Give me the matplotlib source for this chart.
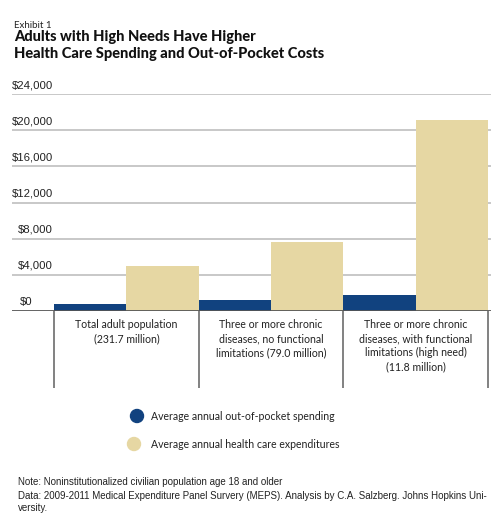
import numpy as np
import matplotlib
matplotlib.use("Agg")
import matplotlib.pyplot as plt
from matplotlib.patches import Ellipse
from matplotlib.transforms import blended_transform_factory, offset_copy

# data
categories = ["Total adult population\n(231.7 million)",
              "Three or more chronic\ndiseases, no functional\nlimitations (79.0 million)",
              "Three or more chronic\ndiseases, with functional\nlimitations (high need)\n(11.8 million)"]
out_of_pocket = [770, 1210, 1760]
total_spending = [4940, 7620, 21080]
y_ticks = [0, 4000, 8000, 12000, 16000, 20000, 24000]
tick_labels = ["$0", "$4,000", "$8,000", "$12,000", "$16,000", "$20,000", "$24,000"]

blue = "#11427f"
beige = "#e6d7a3"
humanist = ["Lato", "DejaVu Sans"]
arial = ["Liberation Sans", "DejaVu Sans"]

fig = plt.figure(figsize=(5, 5.3), dpi=100)
W, H = 500, 530
ax = fig.add_axes([12 / W, 1 - 311 / H, 479 / W, 217 / H])

x = np.arange(len(categories))
ax.bar(x - 0.25, out_of_pocket, width=0.5, color=blue, zorder=3)
ax.bar(x + 0.25, total_spending, width=0.5, color=beige, zorder=3)

ax.set_xlim(-0.5 - 42 / 144, 2.5 + 3 / 144)
ax.set_ylim(0, 24000)
for v in y_ticks[1:]:
    ax.axhline(v, color="#c4c4c4", lw=1.3, zorder=1)
ax.axhline(0, color="#555555", lw=2, zorder=4)

for s in ax.spines.values():
    s.set_visible(False)
ax.set_xticks([])
ax.set_yticks([])

# y labels sit just above the gridlines
trans = offset_copy(blended_transform_factory(fig.transFigure, ax.transData),
                    fig=fig, y=4, units="dots")
for v, lab in zip(y_ticks, tick_labels):
    if v == 0:
        fig.text(20 / W, v, lab, transform=trans, ha="left", va="bottom",
                 fontsize=8.2, family=arial, color="#222222")
    else:
        fig.text(53 / W, v, lab, transform=trans, ha="right", va="bottom",
                 fontsize=8.2, family=arial, color="#222222")

# separators under the axis
xt = ax.get_xaxis_transform()
ax.vlines(np.arange(len(categories) + 1) - 0.5, -77 / 217, 0, transform=xt,
          color="#777777", lw=1.3, clip_on=False)

for i, c in enumerate(categories):
    ax.text(i, -8 / 217, c, transform=xt, ha="center", va="top", fontsize=7.6,
            family=humanist, color="#222222", linespacing=1.35)

# title
fig.text(14 / W, 1 - 25 / H, "Exhibit 1", fontsize=7, family=humanist,
         va="center", color="#222222")
fig.text(14 / W, 1 - 45.5 / H, "Adults with High Needs Have Higher\nHealth Care Spending and Out-of-Pocket Costs",
         fontsize=10.5, family=humanist, weight="black", va="center",
         linespacing=1.2, color="#111111")

# legend
fig.patches.append(Ellipse((137 / W, 1 - 416 / H), 13 / W, 13 / H,
                           transform=fig.transFigure, color=blue))
fig.patches.append(Ellipse((134 / W, 1 - 444 / H), 13 / W, 13 / H,
                           transform=fig.transFigure, color=beige))
fig.text(151 / W, 1 - 416 / H, "Average annual out-of-pocket spending", fontsize=7.6,
         family=humanist, va="center", color="#222222")
fig.text(151 / W, 1 - 444 / H, "Average annual health care expenditures", fontsize=7.6,
         family=humanist, va="center", color="#222222")

# notes
fig.text(18 / W, 1 - 482 / H, "Note: Noninstitutionalized civilian population age 18 and older",
         fontsize=7, family=arial, va="center", color="#222222")
fig.text(18 / W, 1 - 502 / H,
         "Data: 2009-2011 Medical Expenditure Panel Survery (MEPS). Analysis by C.A. Salzberg. Johns Hopkins Uni-\nversity.",
         fontsize=7, family=arial, va="center", color="#222222", linespacing=1.15)

fig.savefig("out.png", dpi=100)
